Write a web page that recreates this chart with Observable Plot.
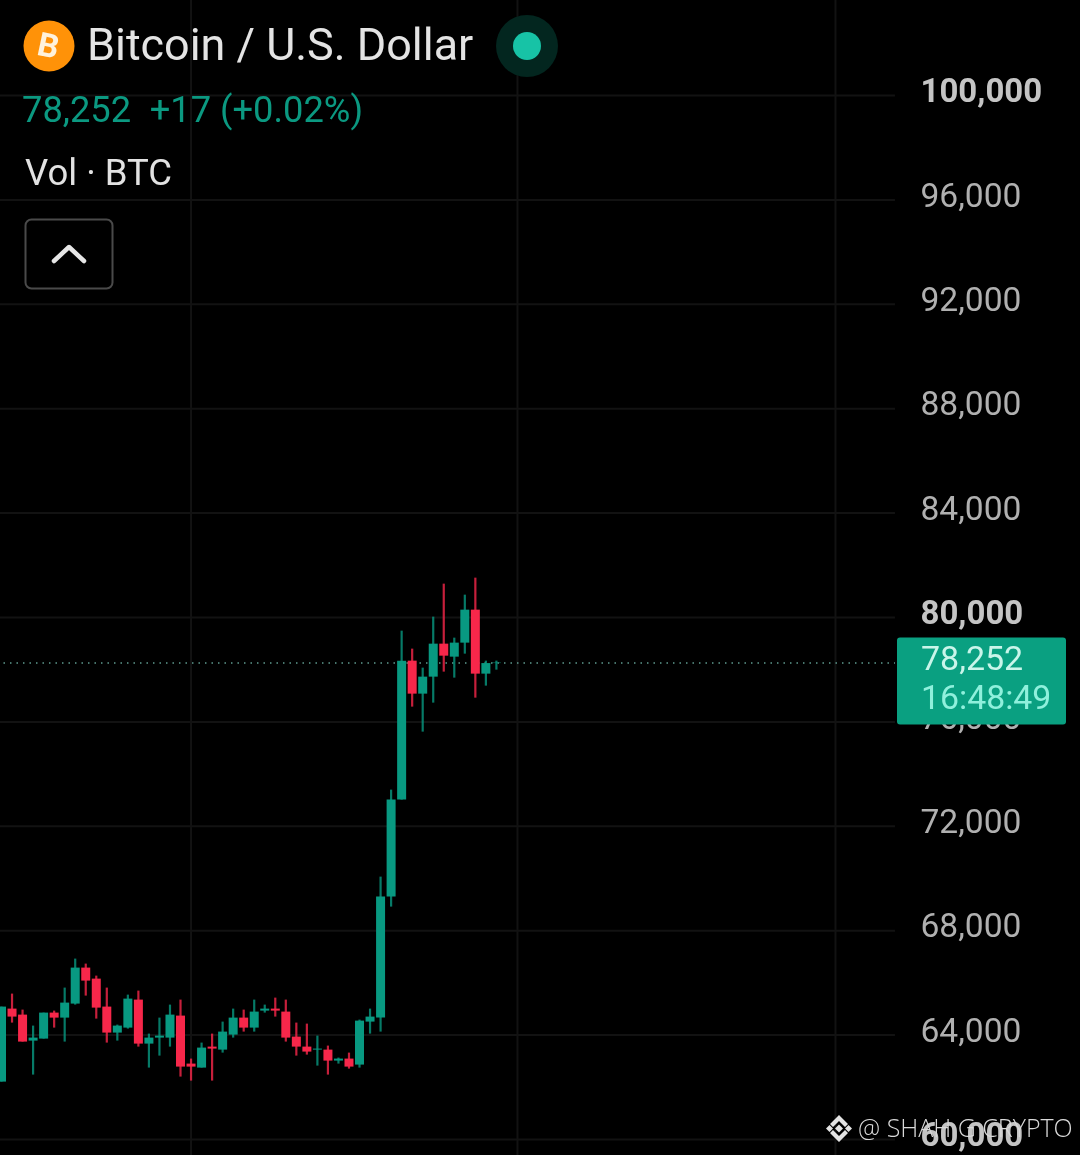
<!DOCTYPE html>
<html>
<head>
<meta charset="utf-8">
<script src="https://cdn.jsdelivr.net/npm/d3@7"></script>
<script src="https://cdn.jsdelivr.net/npm/@observablehq/plot@0.6"></script>
<style>
html,body{margin:0;padding:0;background:#000;}
#wrap{position:relative;width:1080px;height:1155px;overflow:hidden;font-family:Roboto,sans-serif;filter:blur(0.5px);}
#wrap svg.plot{display:block;position:absolute;left:0;top:0;}
.ov{position:absolute;white-space:nowrap;line-height:1;}
</style>
</head>
<body>
<div id="wrap"></div>
<script>
const opens  = [62199,64996,64766,63770,63847,64843,64651,65188,66567,66145,65073,64077,64268,65341,63655,63885,63885,64728,62889,62736,63540,63425,64000,64651,64268,64919,64996,64881,63923,63540,63425,63425,63004,63081,62851,64498,64651,69287,73003,78328,77064,77715,78979,78481,79018,80282,77830,78235];
const highs  = [65073,65571,64958,64345,64843,64919,65801,66912,66720,66260,65801,64383,65532,65686,64038,64651,65149,65341,63081,63694,64038,64498,64996,64958,65341,65149,65417,65341,64460,64421,63962,63579,63119,63310,64575,64996,70053,73386,79477,78788,78060,80014,81278,79209,80856,81508,78328,78328];
const lows   = [62199,64460,63732,62468,63847,64268,63732,65149,65494,64613,63694,63770,64230,63540,62736,63195,63540,62391,62238,62736,62238,63310,63885,64115,64115,64843,64690,63732,63195,63234,62812,62468,62889,62697,62736,64038,64115,68904,73003,76566,75608,76719,77907,77677,78596,76910,77370,77983];
const closes = [65073,64690,63732,63885,64843,64651,65226,66567,66069,65034,64077,64345,65379,63655,63885,63962,64766,62774,62774,63502,63464,64115,64651,64268,64881,64996,64919,63885,63540,63349,63464,63004,63081,62774,64536,64690,69287,73003,78328,77064,77715,78979,78519,79018,80282,77830,78235,78252];

const priceTicks = [100000,96000,92000,88000,84000,80000,76000,72000,68000,64000,60000];
const boldTicks  = [100000,80000,60000];
const timeTicks  = [18,49,79.2];
const lastPrice  = 78252;
const countdown  = "16:48:49";
const titleText  = "Bitcoin / U.S. Dollar";
const changeText = "78,252\u2002+17 (+0.02%)";
const volText    = "Vol \u00B7 BTC";
const watermark  = "@ SHAH G CRYPTO";

const green = "#089981", red = "#f7274a", gridColor = "#121212";
const candles = opens.map((o,i)=>({i,o,h:highs[i],l:lows[i],c:closes[i],col:closes[i]>=o?green:red}));
const gridEnd = 84.9;

const plot = Plot.plot({
  width:1080,height:1155,
  marginTop:0,marginRight:0,marginBottom:0,marginLeft:0,
  style:{background:"#000",fontFamily:"Roboto,sans-serif"},
  x:{domain:[-0.095,102.47],axis:null},
  y:{domain:[59387,103640],axis:null},
  marks:[
    Plot.ruleX(timeTicks,{stroke:gridColor,strokeWidth:2}),
    Plot.ruleY(priceTicks,{x1:-1,x2:gridEnd,stroke:gridColor,strokeWidth:2}),
    Plot.ruleY([lastPrice],{x1:-1,x2:gridEnd,stroke:"#5f9c90",strokeWidth:1.5,strokeDasharray:"1.5,5"}),
    Plot.text(priceTicks.filter(t=>!boldTicks.includes(t)),{y:d=>d,text:d=>d3.format(",")(d),frameAnchor:"left",dx:920,dy:-4,textAnchor:"start",fill:"#b0b0b0",fontSize:33.6}),
    Plot.text(boldTicks,{y:d=>d,text:d=>d3.format(",")(d),frameAnchor:"left",dx:920,dy:-4,textAnchor:"start",fill:"#c4c4c4",fontSize:33,fontWeight:"bold"}),
    Plot.ruleX(candles,{x:"i",y1:"l",y2:"h",stroke:"col",strokeWidth:2.2,strokeOpacity:0.8}),
    Plot.ruleX(candles,{x:"i",y1:"o",y2:"c",stroke:"col",strokeWidth:9})
  ]
});
const wrap = document.getElementById("wrap");
wrap.appendChild(plot);
const yS = plot.scale("y");

function ov(text,left,top,size,color,extra){
  const d=document.createElement("div");d.className="ov";d.textContent=text;
  d.style.left=left+"px";d.style.top=top+"px";d.style.fontSize=size+"px";d.style.color=color;
  if(extra)Object.assign(d.style,extra);
  wrap.appendChild(d);return d;
}
function shape(html){
  const d=document.createElement("div");d.style.position="absolute";d.style.left="0";d.style.top="0";
  d.innerHTML='<svg width="1080" height="1155" style="display:block">'+html+'</svg>';
  wrap.appendChild(d);
}
const by = yS.apply(lastPrice)-25;
shape(`
<circle cx="49" cy="46" r="25.5" fill="#ff9208"/>
<circle cx="527" cy="46" r="31" fill="#03261f"/>
<circle cx="527" cy="46" r="14" fill="#17c3a6"/>
<rect x="25.5" y="219.5" width="87" height="69" rx="6" fill="#000" stroke="#4a4a4a" stroke-width="2"/>
<path d="M54 261 L69 247 L84 261" fill="none" stroke="#e6e6e6" stroke-width="4.5" stroke-linecap="round" stroke-linejoin="round"/>
<rect x="897" y="${by}" width="169" height="87" rx="3" fill="#0aa081"/>
<g fill="#e4e4e4">
<path d="M839 1115l9 9-3 3-6-6-6 6-3-3z"/>
<path d="M839 1142l9-9-3-3-6 6-6-6-3 3z"/>
<path d="M829.5 1125l3.5 3.5-3.5 3.5-3.5-3.5z"/><path d="M848.5 1125l3.5 3.5-3.5 3.5-3.5-3.5z"/>
<path d="M839 1124.5l4 4-4 4-4-4z"/>
</g>`);
ov("B",38,29,33,"#fff2dc",{fontWeight:"bold",transform:"rotate(12deg)",transformOrigin:"center"});
ov(titleText,87,23,44.9,"#e4e4e4");
ov(changeText,22,92,36.3,"#0b9981");
ov(volText,25,155,36.5,"#e2e2e2");
ov(d3.format(",")(lastPrice),921,by+3,34,"#c9f5ea");
ov(countdown,921,by+43,33.8,"#8ff0dc");
ov(watermark,858,1115,25,"#d9d9d9",{fontFamily:"'Open Sans',sans-serif",fontWeight:"300"});
</script>
</body>
</html>
